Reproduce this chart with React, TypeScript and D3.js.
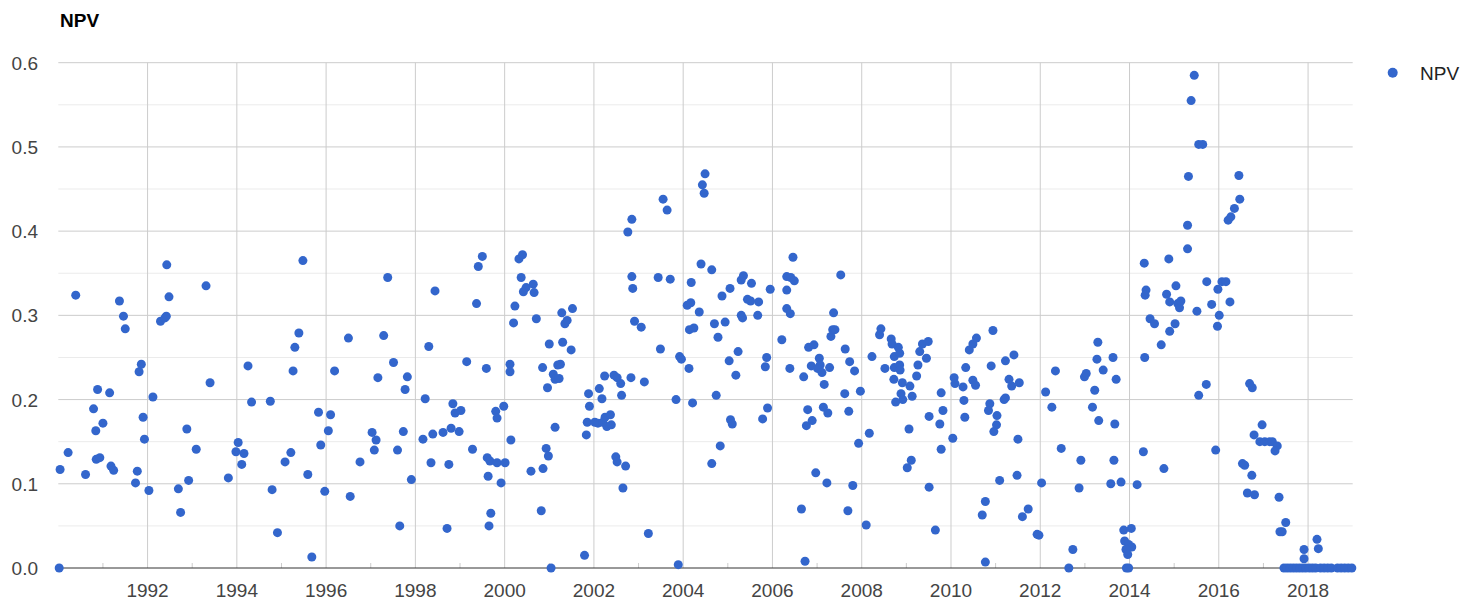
import React from "react";
import * as d3 from "d3";

// [decimal year, NPV]
const npv1990s: [number, number][] = [
  [1990.02,0],[1990.04,0.117],[1990.22,0.137],[1990.39,0.324],[1990.61,0.111],[1990.79,0.189],[1990.84,0.163],[1990.88,0.212],[1990.85,0.129],[1990.93,0.131],[1991.0,0.172],[1991.15,0.208],[1991.18,0.121],[1991.24,0.116],[1991.37,0.317],[1991.46,0.299],[1991.50,0.284],[1991.73,0.101],[1991.77,0.115],[1991.81,0.233],[1991.86,0.242],[1991.90,0.179],[1991.93,0.153],[1992.03,0.092],[1992.12,0.203],[1992.29,0.293],[1992.39,0.297],[1992.42,0.299],[1992.43,0.360],[1992.48,0.322],[1992.69,0.094],[1992.74,0.066],[1992.88,0.165],[1992.92,0.104],[1993.09,0.141],[1993.31,0.335],[1993.40,0.220],[1993.81,0.107],[1993.98,0.138],[1994.03,0.149],[1994.11,0.123],[1994.16,0.136],[1994.25,0.240],[1994.33,0.197],[1994.75,0.198],[1994.79,0.093],
  [1994.91,0.042],[1995.08,0.126],[1995.21,0.137],[1995.26,0.234],[1995.30,0.262],[1995.39,0.279],[1995.48,0.365],[1995.59,0.111],[1995.68,0.013],[1995.83,0.185],[1995.88,0.146],[1995.97,0.091],[1996.05,0.163],[1996.10,0.182],[1996.19,0.234],[1996.50,0.273],[1996.54,0.085],[1996.76,0.126],[1997.03,0.161],[1997.08,0.140],[1997.12,0.152],[1997.16,0.226],[1997.29,0.276],[1997.38,0.345],[1997.51,0.244],[1997.60,0.140],[1997.65,0.050],[1997.73,0.162],[1997.77,0.212],[1997.82,0.227],[1997.91,0.105],[1998.17,0.153],[1998.22,0.201],[1998.30,0.263],[1998.35,0.125],[1998.39,0.159],[1998.44,0.329],[1998.62,0.161],[1998.71,0.047],[1998.75,0.123],[1998.80,0.166],[1998.84,0.195],[1998.89,0.184],[1998.98,0.162],[1999.02,0.187],[1999.15,0.245],[1999.28,0.141],[1999.37,0.314],[1999.41,0.358],[1999.50,0.370],[1999.59,0.237],[1999.61,0.131],[1999.63,0.109],[1999.69,0.065],[1999.65,0.050],
  [1999.80,0.186],[1999.83,0.178],[1999.98,0.192],[1999.67,0.127],[1999.83,0.125],[1999.92,0.101],
];

const npv2000s: [number, number][] = [
  [2000.01,0.125],[2000.12,0.242],[2000.12,0.233],[2000.14,0.152],[2000.20,0.291],[2000.23,0.311],[2000.32,0.367],[2000.40,0.372],[2000.37,0.345],[2000.48,0.333],[2000.42,0.328],[2000.64,0.337],[2000.66,0.327],[2000.71,0.296],[2000.59,0.115],[2000.82,0.068],[2000.85,0.238],[2000.86,0.118],[2000.93,0.142],[2000.98,0.133],[2000.96,0.214],[2001.00,0.266],[2001.04,0],[2001.09,0.230],[2001.13,0.167],[2001.13,0.224],[2001.19,0.241],[2001.25,0.242],[2001.22,0.225],[2001.30,0.268],[2001.28,0.303],[2001.35,0.290],[2001.40,0.294],[2001.49,0.259],[2001.52,0.308],[2001.79,0.015],[2001.83,0.158],[2001.85,0.173],[2001.88,0.207],[2001.90,0.192],[2002.12,0.213],[2002.18,0.201],[2002.02,0.173],[2002.09,0.172],[2002.20,0.173],[2002.25,0.179],[2002.29,0.168],[2002.37,0.182],[2002.39,0.170],[2002.24,0.228],[2002.45,0.229],[2002.52,0.226],[2002.60,0.219],[2002.62,0.205],[2002.49,0.132],[2002.52,0.126],[2002.71,0.121],[2002.65,0.095],[2002.76,0.399],[2002.85,0.414],[2002.83,0.226],[2002.85,0.346],[2002.87,0.332],[2002.91,0.293],[2003.06,0.286],[2003.13,0.221],[2003.22,0.041],[2003.44,0.345],[2003.49,0.260],[2003.55,0.438],[2003.64,0.425],[2003.71,0.343],[2003.84,0.200],[2003.89,0.004],[2003.92,0.251],[2003.96,0.248],[2004.13,0.237],[2004.21,0.196],[2004.14,0.283],[2004.24,0.285],[2004.09,0.312],[2004.17,0.315],[2004.36,0.304],[2004.18,0.339],[2004.40,0.361],[2004.43,0.455],[2004.47,0.445],[2004.49,0.468],[2004.64,0.354],[2004.64,0.124],
  [2004.87,0.323],[2005.05,0.332],[2004.74,0.205],[2004.70,0.290],[2004.78,0.274],[2004.94,0.292],[2004.83,0.145],[2005.03,0.246],[2005.06,0.176],[2005.10,0.171],[2005.18,0.229],[2005.23,0.257],[2005.30,0.342],[2005.35,0.347],[2005.30,0.300],[2005.33,0.297],[2005.44,0.319],[2005.53,0.338],[2005.51,0.317],[2005.69,0.316],[2005.67,0.300],[2005.78,0.177],[2005.84,0.239],[2005.87,0.250],[2005.89,0.190],[2005.95,0.331],[2006.21,0.271],[2006.32,0.330],[2006.32,0.346],[2006.41,0.345],[2006.49,0.341],[2006.46,0.369],[2006.32,0.308],[2006.40,0.302],[2006.39,0.237],[2006.65,0.070],[2006.73,0.008],[2006.70,0.227],[2006.79,0.188],[2006.76,0.169],[2006.89,0.175],[2006.81,0.262],[2006.93,0.265],[2006.87,0.240],[2006.97,0.113],[2007.05,0.249],[2007.07,0.241],[2007.01,0.237],[2007.11,0.232],[2007.16,0.218],[2007.28,0.238],[2007.14,0.191],[2007.24,0.184],[2007.22,0.101],[2007.31,0.275],[2007.35,0.283],[2007.40,0.283],[2007.37,0.303],[2007.53,0.348],[2007.63,0.260],[2007.73,0.245],[2007.84,0.234],[2007.62,0.207],[2007.71,0.186],[2007.69,0.068],[2007.80,0.098],[2007.93,0.148],[2007.97,0.210],[2008.10,0.051],[2008.17,0.160],[2008.23,0.251],[2008.40,0.277],[2008.43,0.284],[2008.52,0.237],[2008.66,0.272],[2008.68,0.266],[2008.73,0.251],[2008.82,0.262],[2008.85,0.255],[2008.73,0.238],[2008.85,0.241],[2008.86,0.235],[2008.72,0.224],[2008.91,0.220],[2009.08,0.216],[2008.88,0.207],[2008.92,0.200],[2008.76,0.197],[2009.13,0.204],[2009.06,0.165],[2009.02,0.119],[2009.11,0.128],[2009.23,0.228],[2009.26,0.241],[2009.30,0.257],[2009.36,0.266],[2009.45,0.249],[2009.49,0.269],[2009.51,0.180],[2009.51,0.096],
  [2009.65,0.045],[2009.75,0.171],[2009.78,0.208],[2009.82,0.187],[2009.78,0.141],
];

const npv2010s: [number, number][] = [
  [2010.04,0.154],[2010.07,0.226],[2010.09,0.219],[2010.27,0.215],[2010.33,0.238],[2010.29,0.199],[2010.31,0.179],[2010.41,0.259],[2010.49,0.266],[2010.57,0.273],[2010.49,0.223],[2010.55,0.217],[2010.70,0.063],[2010.77,0.079],[2010.77,0.007],[2010.87,0.195],[2010.84,0.187],[2011.03,0.181],[2011.02,0.170],[2010.96,0.162],[2010.90,0.240],[2010.94,0.282],[2011.09,0.104],[2011.22,0.246],[2011.19,0.200],[2011.22,0.202],[2011.41,0.253],[2011.30,0.224],[2011.36,0.216],[2011.53,0.220],[2011.48,0.110],[2011.50,0.153],[2011.60,0.061],[2011.73,0.070],[2011.93,0.040],[2011.97,0.039],[2012.03,0.101],[2012.12,0.209],[2012.26,0.191],[2012.34,0.234],[2012.47,0.142],[2012.64,0],[2012.73,0.022],[2012.87,0.095],[2012.91,0.128],[2012.99,0.227],[2013.03,0.231],[2013.17,0.191],[2013.22,0.211],[2013.27,0.248],[2013.29,0.268],[2013.31,0.175],[2013.41,0.235],[2013.58,0.100],[2013.63,0.250],[2013.70,0.224],[2013.67,0.171],[2013.65,0.128],[2013.81,0.102],[2013.87,0.045],[2014.04,0.047],[2013.89,0.032],[2013.98,0.028],[2014.05,0.025],[2013.92,0.022],[2013.96,0.016],[2013.93,0],[2013.98,0],[2014.17,0.099],[2014.31,0.138],[2014.34,0.250],[2014.33,0.362],[2014.37,0.330],[2014.35,0.324],[2014.46,0.296],
  [2014.56,0.290],[2014.71,0.265],[2014.77,0.118],[2014.88,0.367],[2014.83,0.325],[2014.90,0.316],[2014.90,0.281],[2015.02,0.290],[2015.04,0.335],[2015.08,0.314],[2015.12,0.309],[2015.15,0.317],[2015.30,0.379],[2015.30,0.407],[2015.32,0.465],[2015.38,0.555],[2015.45,0.585],[2015.51,0.305],[2015.55,0.205],[2015.55,0.503],[2015.64,0.503],[2015.72,0.218],[2015.73,0.340],[2015.84,0.313],[2015.93,0.140],[2015.97,0.287],[2016.01,0.300],[2015.98,0.331],[2016.07,0.340],[2016.16,0.340],[2016.25,0.316],[2016.21,0.413],[2016.27,0.417],[2016.35,0.427],[2016.45,0.466],[2016.47,0.438],[2016.53,0.124],[2016.58,0.122],[2016.64,0.089],[2016.80,0.087],[2016.69,0.219],[2016.75,0.214],[2016.74,0.110],[2016.79,0.158],[2016.97,0.170],[2016.92,0.150],[2017.03,0.150],[2017.14,0.150],[2017.20,0.150],[2017.31,0.145],[2017.26,0.139],[2017.35,0.084],[2017.37,0.043],[2017.42,0.043],[2017.50,0.054],[2017.91,0.022],[2017.91,0.011],[2018.20,0.034],[2018.23,0.023],
  [2017.46,0],[2017.53,0],[2017.60,0],[2017.67,0],[2017.74,0],[2017.81,0],[2017.88,0],[2017.95,0],[2018.03,0],[2018.10,0],[2018.17,0],[2018.28,0],[2018.36,0],[2018.44,0],[2018.52,0],[2018.66,0],[2018.74,0],[2018.82,0],[2018.90,0],[2018.98,0],
];

const yTicks = [0, 0.1, 0.2, 0.3, 0.4, 0.5, 0.6];
const yMinor = [0.05, 0.15, 0.25, 0.35, 0.45, 0.55];
const xTicks = [1992, 1994, 1996, 1998, 2000, 2002, 2004, 2006, 2008, 2010, 2012, 2014, 2016, 2018];
const xMinor = [1991, 1993, 1995, 1997, 1999, 2001, 2003, 2005, 2007, 2009, 2011, 2013, 2015, 2017];

const W = 1469, H = 612;
const L = 58.3, R = 1352.7, T = 62.7, B = 568;
const COLOR = "#3366cc";
const FONT = "Arial, 'Liberation Sans', sans-serif";

export default function App() {
  const data = [...npv1990s, ...npv2000s, ...npv2010s];
  const x = d3.scaleLinear().domain([1990, 2019]).range([L, R]);
  const y = d3.scaleLinear().domain([0, 0.6]).range([B, T]);
  return (
    <svg width={W} height={H} style={{ position: "absolute", left: 0, top: 0, background: "#fff" }} fontFamily={FONT}>
      <rect x={0} y={0} width={W} height={H} fill="#fff" />
      <text x={60} y={26.5} fontSize={19} fontWeight="bold" fill="#000">NPV</text>
      {yMinor.map((v) => (
        <line key={"ym" + v} x1={L} x2={R} y1={y(v)} y2={y(v)} stroke="#ebebeb" strokeWidth={1} />
      ))}
      {yTicks.filter((v) => v > 0).map((v) => (
        <line key={"yg" + v} x1={L} x2={R} y1={y(v)} y2={y(v)} stroke="#cccccc" strokeWidth={1} />
      ))}
      {xTicks.map((t) => (
        <line key={"xg" + t} x1={x(t)} x2={x(t)} y1={T} y2={B} stroke="#cccccc" strokeWidth={1} />
      ))}
      {xMinor.map((t) => (
        <line key={"xm" + t} x1={x(t)} x2={x(t)} y1={B - 5} y2={B} stroke="#cccccc" strokeWidth={1} />
      ))}
      <line x1={L} x2={R} y1={B} y2={B} stroke="#333333" strokeWidth={1} />
      {yTicks.map((v) => (
        <text key={"yl" + v} x={38} y={y(v) + 7} textAnchor="end" fontSize={19} fill="#444444">
          {d3.format(".1f")(v)}
        </text>
      ))}
      {xTicks.map((t) => (
        <text key={"xl" + t} x={x(t)} y={597} textAnchor="middle" fontSize={19} fill="#444444">
          {t}
        </text>
      ))}
      {data.map((d, i) => (
        <circle key={i} cx={x(d[0])} cy={y(d[1])} r={4.5} fill={COLOR} />
      ))}
      <circle cx={1392.7} cy={72.7} r={5} fill={COLOR} />
      <text x={1420} y={80} fontSize={19} fill="#222222">NPV</text>
    </svg>
  );
}
